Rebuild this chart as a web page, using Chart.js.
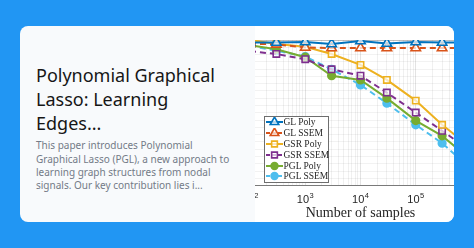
<!DOCTYPE html>
<html>
<head>
<meta charset="utf-8">
<script src="https://cdn.jsdelivr.net/npm/chart.js@4.4.1/dist/chart.umd.min.js"></script>
<style>
    html, body { margin: 0; padding: 0; }
    body { width: 474px; height: 248px; background: #2196f3; position: relative; overflow: hidden; }
    #card { position: absolute; left: 20px; top: 26px; width: 434px; height: 196px; background: #f8fafc; border-radius: 8px; overflow: hidden; }
    #text { position: absolute; left: 16px; top: 37px; width: 215px; font-family: "Noto Sans", sans-serif; white-space: nowrap; }
    #text h1 { margin: 0; font-size: 18px; line-height: 24px; font-weight: 400; color: #161616; }
    #text p { margin: 4.4px 0 0 0; font-size: 10px; line-height: 13.33px; color: #737b87; }
    #plot { position: absolute; left: 235px; top: 0; width: 199px; height: 196px; background: #ffffff; overflow: hidden; }
    #chart { position: absolute; left: -15px; top: 0; }
    #legend { position: absolute; left: 8.5px; top: 90px; width: 63px; background: #fff; border: 1px solid #6e6e6e; font-family: "Liberation Serif", "DejaVu Serif", serif; font-size: 9.5px; color: #262626; }
    #legend div { height: 10.8px; display: flex; align-items: center; white-space: nowrap; }
    #legend canvas { margin: 0 1px 0 1px; }
</style>
</head>
<body>
<div id="card">
    <div id="text">
        <h1>Polynomial Graphical<br>Lasso: Learning<br>Edges...</h1>
        <p>This paper introduces Polynomial<br>Graphical Lasso (PGL), a new approach to<br>learning graph structures from nodal<br>signals. Our key contribution lies i...</p>
    </div>
    <div id="plot">
        <canvas id="chart" width="240" height="200"></canvas>
        <div id="legend"></div>
    </div>
</div>
<script>
// data (y on a 0..1 scale of the plot height)
const samples = [100, 300, 1000, 3000, 10000, 30000, 100000, 300000, 1000000];
const seriesNames = ['GL Poly', 'GL SSEM', 'GSR Poly', 'GSR SSEM', 'PGL Poly', 'PGL SSEM'];
const glPoly  = [0.983, 0.983, 0.986, 0.973, 0.993, 0.976, 0.986, 0.983, 0.983];
const glSsem  = [0.975, 0.970, 0.949, 0.945, 0.945, 0.945, 0.945, 0.945, 0.945];
const gsrPoly = [1.000, 0.973, 0.954, 0.904, 0.829, 0.726, 0.584, 0.418, 0.260];
const gsrSsem = [0.923, 0.904, 0.868, 0.799, 0.755, 0.639, 0.502, 0.377, 0.237];
const pglPoly = [0.964, 0.936, 0.882, 0.755, 0.726, 0.601, 0.447, 0.342, 0.178];
const pglSsem = [0.959, 0.927, 0.886, 0.799, 0.692, 0.566, 0.418, 0.292, 0.116];
const majorTicks = [100, 1000, 10000, 100000, 1000000];
const tickBase = '10';
const tickExponents = ['2', '3', '4', '5', '6'];

const values = [glPoly, glSsem, gsrPoly, gsrSsem, pglPoly, pglSsem];
const colors = ['#0072bd', '#d95319', '#edb120', '#7e2f8e', '#77ac30', '#4dbeee'];
const dashed = [false, true, false, true, false, true];
const markers = ['triangle', 'triangle', 'rect', 'rect', 'circle', 'circle'];
const markerSize = [5.5, 5.5, 4.5, 4.5, 3.8, 3.8];

const datasets = seriesNames.map(function (name, i) {
    return {
        label: name,
        data: samples.map(function (s, j) { return { x: s, y: values[i][j] }; }),
        borderColor: colors[i],
        borderWidth: 2,
        borderDash: dashed[i] ? [6, 4] : [],
        pointStyle: markers[i],
        pointRadius: markerSize[i],
        pointBorderWidth: 1.6,
        pointBorderColor: colors[i],
        pointBackgroundColor: markers[i] === 'circle' ? colors[i] : 'rgba(255,255,255,0.7)',
        tension: 0
    };
});

// draws "10" with a raised exponent under each decade
const powerLabels = {
    id: 'powerLabels',
    afterDraw: function (chart) {
        const scale = chart.scales.x;
        const c = chart.ctx;
        c.save();
        c.fillStyle = '#262626';
        c.textBaseline = 'alphabetic';
        majorTicks.forEach(function (m, k) {
            const x = scale.getPixelForValue(m);
            const y = scale.top + 17.3;
            c.font = '11px "Liberation Sans"';
            const wb = c.measureText(tickBase).width;
            c.font = '7.5px "Liberation Sans"';
            const we = c.measureText(tickExponents[k]).width;
            const left = x - (wb + we + 0.5) / 2;
            c.font = '11px "Liberation Sans"';
            c.fillText(tickBase, left, y);
            c.font = '7.5px "Liberation Sans"';
            c.fillText(tickExponents[k], left + wb + 0.5, y - 5);
        });
        c.restore();
    }
};

const ctx = document.getElementById('chart').getContext('2d');
const chart = new Chart(ctx, {
    type: 'line',
    data: { datasets: datasets },
    plugins: [powerLabels],
    options: {
        responsive: false,
        animation: false,
        devicePixelRatio: 1,
        layout: { padding: { left: 10, right: 9, top: 14, bottom: 0 } },
        plugins: { legend: { display: false }, tooltip: { enabled: false } },
        scales: {
            x: {
                type: 'logarithmic',
                min: 100,
                max: 1000000,
                afterBuildTicks: function (scale) {
                    const ticks = [];
                    majorTicks.forEach(function (m, k) {
                        if (k === majorTicks.length - 1) { ticks.push({ value: m }); return; }
                        for (let d = 1; d < 10; d++) ticks.push({ value: m * d });
                    });
                    scale.ticks = ticks;
                },
                ticks: { display: false },
                grid: {
                    drawTicks: false,
                    color: function (c) {
                        return majorTicks.indexOf(c.tick.value) >= 0 ? 'rgba(0,0,0,0.11)' : 'rgba(0,0,0,0.06)';
                    }
                },
                border: { color: '#7a7a7a', width: 1 },
                title: {
                    display: true,
                    text: 'Number of samples',
                    color: '#262626',
                    padding: { top: 19.5, bottom: 4 },
                    font: { family: 'Liberation Serif', size: 14 }
                }
            },
            y: {
                min: 0,
                max: 1,
                ticks: { display: false, stepSize: 0.05 },
                grid: {
                    drawTicks: false,
                    color: function (c) {
                        return c.tick.value >= 1 ? 'rgba(0,0,0,0.25)' : 'rgba(0,0,0,0.05)';
                    }
                },
                border: { display: false }
            }
        }
    }
});

// legend built from the datasets
const legend = document.getElementById('legend');
datasets.forEach(function (ds) {
    const row = document.createElement('div');
    const sw = document.createElement('canvas');
    sw.width = 17; sw.height = 10;
    const c = sw.getContext('2d');
    c.strokeStyle = ds.borderColor;
    c.lineWidth = 2;
    c.setLineDash(ds.borderDash.length ? [4, 2] : []);
    c.beginPath(); c.moveTo(0, 5); c.lineTo(17, 5); c.stroke();
    c.setLineDash([]);
    if (Chart.helpers && Chart.helpers.drawPoint) {
        c.fillStyle = ds.pointBackgroundColor;
        c.strokeStyle = ds.pointBorderColor;
        c.lineWidth = ds.pointBorderWidth;
        Chart.helpers.drawPoint(c, {
            pointStyle: ds.pointStyle, radius: ds.pointRadius * 0.9, borderWidth: ds.pointBorderWidth,
            rotation: 0
        }, 8.5, 5);
    }
    const label = document.createElement('span');
    label.textContent = ds.label;
    row.appendChild(sw);
    row.appendChild(label);
    legend.appendChild(row);
});
</script>
</body>
</html>
